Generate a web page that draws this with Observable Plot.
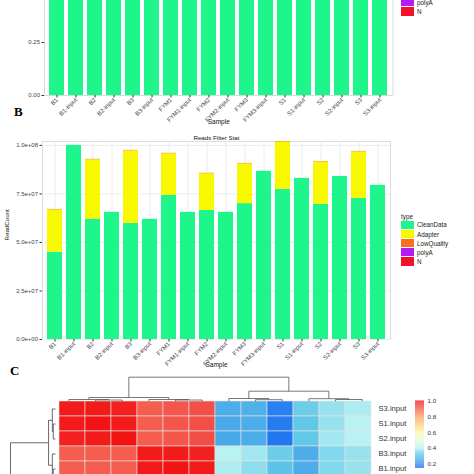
<!DOCTYPE html>
<html><head><meta charset="utf-8">
<script src="https://cdn.jsdelivr.net/npm/d3@7"></script>
<script src="https://cdn.jsdelivr.net/npm/@observablehq/plot@0.6"></script>
<style>
html,body{margin:0;padding:0;background:#fff;}
#root{position:relative;width:474px;height:474px;overflow:hidden;background:#fff;font-family:"Liberation Sans",Arial,sans-serif;}
#root > *{position:absolute;}
.plab{font-family:"Liberation Serif","Times New Roman",serif;font-weight:bold;font-size:13px;color:#000;line-height:1;}
.leg{font-size:6.3px;color:#222;}
.leg div{position:absolute;white-space:nowrap;}
</style></head><body><div id="root"></div>
<script>
// ---------- data ----------
const samples = ["B1","B1-input","B2","B2-input","B3","B3-input","FYM1","FYM1-input","FYM2","FYM2-input","FYM3","FYM3-input","S1","S1-input","S2","S2-input","S3","S3-input"];
const types = ["CleanData","Adapter","LowQuality","polyA","N"];
const typeColors = ["#1ef58a","#f8f800","#f8701e","#b31cf3","#f5102a"];
const cleanData  = [4.50e7,1.00e8,6.20e7,6.55e7,5.98e7,6.19e7,7.42e7,6.55e7,6.65e7,6.55e7,7.00e7,8.66e7,7.73e7,8.30e7,6.96e7,8.40e7,7.27e7,7.94e7];
const adapter    = [2.18e7,0,3.06e7,0,3.74e7,0,2.15e7,0,1.89e7,0,2.05e7,0,2.45e7,0,2.19e7,0,2.40e7,0];
const lowQuality = [2e5,0,2e5,0,2e5,0,2e5,0,2e5,0,2e5,0,2e5,0,2e5,0,2e5,0];
const polyA      = [0,0,0,0,0,0,0,0,0,0,0,0,0,0,0,0,0,0];
const nBases     = [0,0,0,0,0,0,0,0,0,0,0,0,0,0,0,0,0,0];
const yTicksA = [0,0.25];           // visible part of panel A's axis
const yTicksB = [0,2.5e7,5e7,7.5e7,1e8];

const heatRows = ["S3.input","S1.input","S2.input","B3.input","B1.input"];
const heatCols = ["c1","c2","c3","c4","c5","c6","c7","c8","c9","c10","c11","c12"];
const heatS3 = [0.99,0.99,0.98,0.89,0.90,0.91,0.26,0.27,0.18,0.33,0.37,0.39];
const heatS1 = [0.99,1.00,0.99,0.89,0.90,0.91,0.25,0.26,0.17,0.32,0.37,0.40];
const heatS2 = [0.98,0.99,1.00,0.89,0.90,0.91,0.25,0.26,0.16,0.32,0.38,0.40];
const heatB3 = [0.89,0.89,0.89,0.99,0.99,0.98,0.40,0.38,0.33,0.26,0.35,0.37];
const heatB1 = [0.89,0.89,0.89,0.99,1.00,0.99,0.39,0.36,0.31,0.26,0.35,0.37];
// hierarchical clustering merges (negative = leaf index, positive = earlier merge), height
const merges = [[-2,-3,0.024],[-1,1,0.034],[-5,-6,0.024],[-4,3,0.034],[2,4,0.074],[-8,-9,0.03],[-7,6,0.054],[-11,-12,0.034],[-10,8,0.05],[7,9,0.2],[5,10,0.48]];
const colorStops = [0.14,0.18,0.25,0.32,0.4,0.5,0.6,0.8,0.9,1];
const colorHex   = ["#1a6cf0","#2a80f0","#48a8e8","#62c8e8","#b8f2f2","#e4fadc","#fff59a","#f9a060","#f4564c","#f21414"];
const colorbarTicks = [0.2,0.4,0.6,0.8,1];

// ---------- helpers ----------
const root = document.getElementById("root");
const font = '"Liberation Sans",Arial,sans-serif';
const baseStyle = {fontFamily: font, fontSize: "6px", color: "#333", background: "transparent", overflow: "visible"};
function place(el, left, top){ el.style.left = left + "px"; el.style.top = top + "px"; root.appendChild(el); return el; }
const fmtE = v => d3.format(".1e")(v).replace(/e([+-])(\d)$/, "e$10$2");

const series = [cleanData, adapter, lowQuality, polyA, nBases];
const table = [];
samples.forEach((s, i) => series.forEach((arr, k) => table.push({sample: s, type: types[k], value: arr[i]})));

// ---------- panel A (only its lower part is visible) ----------
const plotA = Plot.plot({
  width: 474, height: 262, marginTop: 10, marginBottom: 40, marginLeft: 44, marginRight: 81.5,
  style: baseStyle,
  x: {domain: samples, paddingInner: 0.2, paddingOuter: 0.1, label: null},
  y: {domain: [0, 1], label: null},
  color: {domain: types, range: typeColors},
  marks: [
    Plot.frame({stroke: "#d9d9d9"}),
    Plot.barY(table, Plot.stackY({offset: "normalize", x: "sample", y: "value", fill: "type"})),
    Plot.axisX({tickRotate: -45, tickSize: 2.5, tickPadding: 1, label: null, fill: "#444"}),
    Plot.axisY({ticks: yTicksA, tickFormat: d3.format(".2f"), tickSize: 2.5, tickPadding: 2, label: null, fill: "#444"}),
    Plot.text(["Sample"], {text: d => d, frameAnchor: "bottom", dy: 28.5, fontSize: 6.5, fill: "#111"})
  ]
});
place(plotA, 0, -127);

// ---------- panel B ----------
const plotB = Plot.plot({
  width: 474, height: 249, marginTop: 11, marginBottom: 40, marginLeft: 42, marginRight: 84,
  style: baseStyle,
  x: {domain: samples, paddingInner: 0.2, paddingOuter: 0.1, label: null},
  y: {domain: [0, 1.02e8], label: null},
  color: {domain: types, range: typeColors},
  marks: [
    Plot.frame({stroke: "#dcdcdc", fill: "#fff"}),
    Plot.gridX({stroke: "#ececec", strokeOpacity: 1}),
    Plot.gridY(yTicksB, {stroke: "#ececec", strokeOpacity: 1}),
    Plot.barY(table, Plot.stackY({x: "sample", y: "value", fill: "type"})),
    Plot.axisX({tickRotate: -45, tickSize: 2.5, tickPadding: 1, label: null, fill: "#444"}),
    Plot.axisY({ticks: yTicksB, tickFormat: fmtE, tickSize: 2.5, tickPadding: 2, label: null, fill: "#444"}),
    Plot.text(["Reads Filter Stat"], {text: d => d, frameAnchor: "top", dy: -6, fontSize: 6.2, fill: "#111"}),
    Plot.text(["Sample"], {text: d => d, frameAnchor: "bottom", dy: 27, fontSize: 6.5, fill: "#111"}),
    Plot.text(["ReadCount"], {text: d => d, frameAnchor: "left", dx: -35, rotate: -90, fontSize: 6.2, fill: "#111"})
  ]
});
place(plotB, 0, 130);

// ---------- legends ----------
function legend(top, first, showTitle){
  const d = document.createElement("div");
  d.className = "leg";
  if (showTitle) {
    const t = document.createElement("div");
    t.textContent = "type"; t.style.left = "0px"; t.style.top = "-8px"; d.appendChild(t);
  }
  types.forEach((ty, i) => {
    if (i < first) return;
    const k = i - first;
    const box = document.createElement("div");
    Object.assign(box.style, {left: "0px", top: (k * 9.2) + "px", width: "12.5px", height: "8.4px", background: typeColors[i]});
    const lab = document.createElement("div");
    lab.textContent = ty;
    Object.assign(lab.style, {left: "16px", top: (k * 9.2 + 0.8) + "px", lineHeight: "7px"});
    d.appendChild(box); d.appendChild(lab);
  });
  return place(d, 401, top);
}
legend(-2, 3, false);   // panel A legend: only its last two keys are within the picture
legend(220.5, 0, true); // panel B legend

// ---------- panel letters ----------
const lb = document.createElement("div"); lb.className = "plab"; lb.textContent = "B"; place(lb, 14, 105);
const lc = document.createElement("div"); lc.className = "plab"; lc.textContent = "C"; place(lc, 10, 364);

// ---------- panel C heatmap ----------
const heatVals = [heatS3, heatS1, heatS2, heatB3, heatB1];
const heatTable = [];
heatRows.forEach((r, i) => heatCols.forEach((c, j) => heatTable.push({row: r, col: c, value: heatVals[i][j]})));
const colorScale = {type: "linear", domain: colorStops, range: colorHex};

const plotH = Plot.plot({
  width: 474, height: 95, marginTop: 5.7, marginBottom: 14.3, marginLeft: 55, marginRight: 99,
  style: baseStyle,
  x: {domain: heatCols, padding: 0, axis: null},
  y: {domain: heatRows, padding: 0, label: null},
  color: colorScale,
  marks: [
    Plot.cell(heatTable, {x: "col", y: "row", fill: "value", stroke: "#e4e4e4", strokeWidth: 0.6}),
    Plot.axisY({anchor: "right", tickSize: 0, tickPadding: 3, fontSize: 7.6, label: null, fill: "#333"})
  ]
});
place(plotH, 0, 395);

// dendrogram segments from merges
function dendroSegments(m){
  const pos = [], segs = [];
  const get = k => k < 0 ? {p: -k, h: 0} : pos[k - 1];
  m.forEach(([a, b, h]) => {
    const A = get(a), B = get(b);
    segs.push({p1: A.p, h1: A.h, p2: A.p, h2: h});
    segs.push({p1: B.p, h1: B.h, p2: B.p, h2: h});
    segs.push({p1: A.p, h1: h, p2: B.p, h2: h});
    pos.push({p: (A.p + B.p) / 2, h});
  });
  return segs;
}
const segs = dendroSegments(merges);

const plotTD = Plot.plot({
  width: 474, height: 31, marginTop: 6.7, marginBottom: 0.3, marginLeft: 55, marginRight: 99,
  style: baseStyle,
  x: {domain: [0.5, 12.5], axis: null},
  y: {domain: [0, 0.48], axis: null},
  marks: [Plot.link(segs, {x1: "p1", y1: "h1", x2: "p2", y2: "h2", stroke: "#555", strokeWidth: 0.8})]
});
place(plotTD, 0, 370);

const plotLD = Plot.plot({
  width: 56, height: 180, marginTop: 0, marginBottom: 0, marginLeft: 10, marginRight: 1,
  style: baseStyle,
  x: {domain: [0.48, 0], axis: null},
  y: {domain: [0.5, 12.5], reverse: true, axis: null},
  marks: [Plot.link(segs, {x1: "h1", y1: "p1", x2: "h2", y2: "p2", stroke: "#444", strokeWidth: 0.8})]
});
place(plotLD, 0, 400.7);

// colorbar
const ramp = d3.range(0.145, 1.0, 0.005);
const plotCB = Plot.plot({
  width: 34, height: 80, marginTop: 5.5, marginBottom: 7, marginLeft: 0, marginRight: 25,
  style: baseStyle,
  x: {domain: [0, 1], axis: null},
  y: {domain: [0.145, 1], label: null},
  color: colorScale,
  marks: [
    Plot.rect(ramp, {x1: 0, x2: 1, y1: d => d, y2: d => Math.min(1, d + 0.0055), fill: d => d}),
    Plot.axisY({anchor: "right", ticks: colorbarTicks, tickSize: 0, tickPadding: 3, label: null, fontSize: 6.2, fill: "#333"})
  ]
});
place(plotCB, 415, 395);
</script></body></html>
